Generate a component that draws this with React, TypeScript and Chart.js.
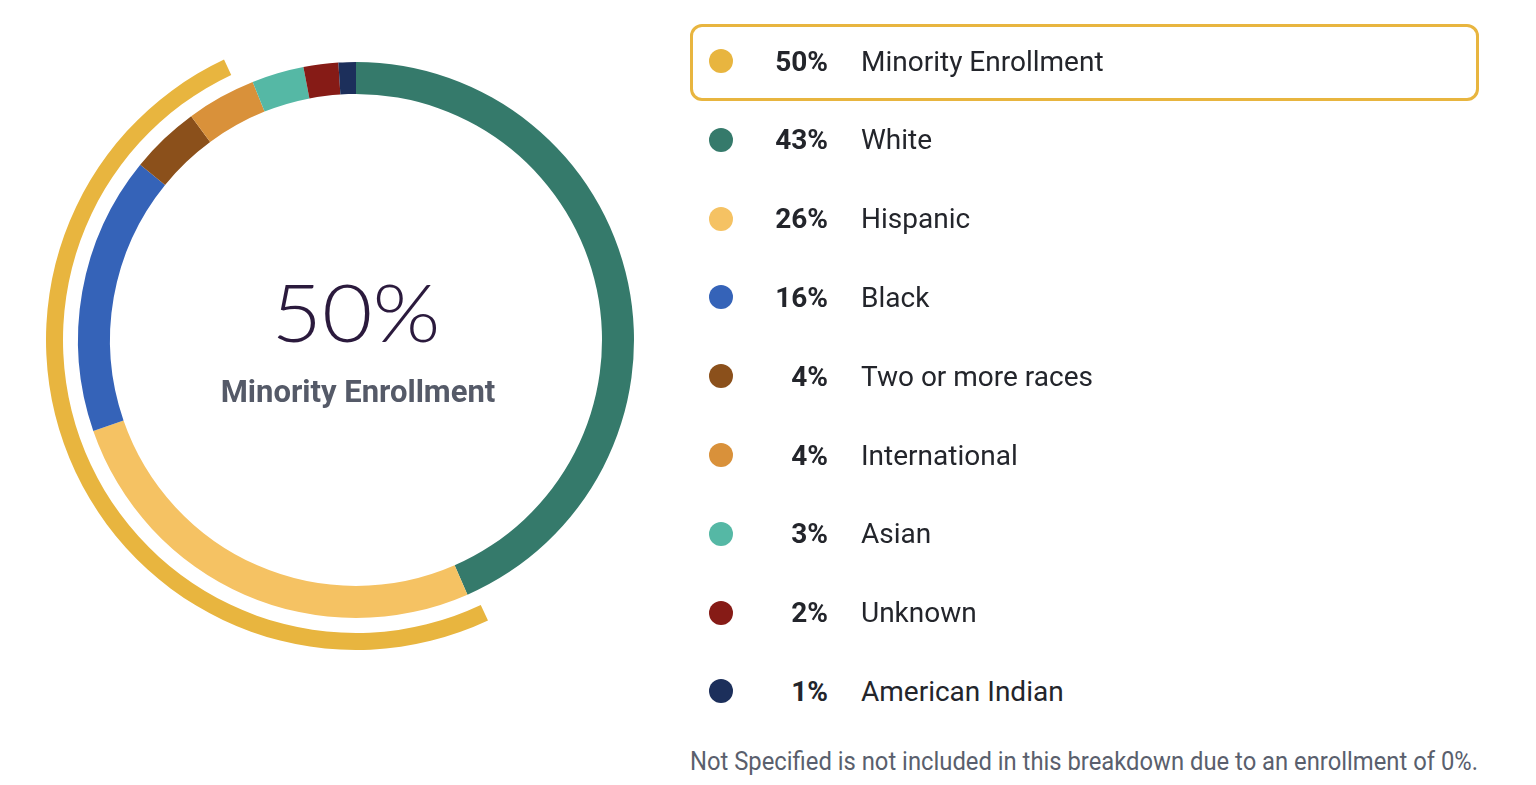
import React, { useEffect, useRef } from "react";
import { Chart, registerables } from "chart.js";

Chart.register(...registerables);

const categories = [
  "White",
  "Hispanic",
  "Black",
  "Two or more races",
  "International",
  "Asian",
  "Unknown",
  "American Indian",
];
const percentages = [43, 26, 16, 4, 4, 3, 2, 1];
const colors = [
  "#357a6b",
  "#f5c263",
  "#3563b8",
  "#8b501b",
  "#d9913a",
  "#55b8a5",
  "#861b16",
  "#1c2f5b",
];
const minorityLabel = "Minority Enrollment";
const minorityValue = 50;
const minorityColor = "#e8b53f";
const footnote =
  "Not Specified is not included in this breakdown due to an enrollment of 0%.";

const centerTextPlugin = {
  id: "centerText",
  afterDraw(chart: any) {
    const ctx = chart.ctx as CanvasRenderingContext2D;
    const { left, right, top, bottom } = chart.chartArea;
    const cx = (left + right) / 2;
    const cy = (top + bottom) / 2;
    ctx.save();
    ctx.textAlign = "center";
    ctx.textBaseline = "alphabetic";
    const big = `${minorityValue}%`;
    ctx.font = "300 80px Lato, 'Open Sans', sans-serif";
    ctx.fillStyle = "#2b1a3d";
    const w = ctx.measureText(big).width;
    const sx = 169 / w;
    ctx.save();
    ctx.translate(cx, cy + 1.5);
    ctx.scale(sx, 1);
    ctx.fillText(big, 0, 0);
    ctx.restore();
    ctx.font = "700 31px Roboto, sans-serif";
    ctx.fillStyle = "#555a68";
    ctx.fillText(minorityLabel, cx + 2, cy + 61.5);
    ctx.restore();
  },
};

function DonutChart() {
  const ref = useRef<HTMLCanvasElement | null>(null);
  useEffect(() => {
    if (!ref.current) return;
    const chart = new Chart(ref.current, {
      type: "doughnut",
      data: {
        labels: categories,
        datasets: [
          {
            label: minorityLabel,
            data: [minorityValue],
            backgroundColor: [minorityColor],
            borderWidth: 0,
            hoverBorderWidth: 0,
            hoverOffset: 0,
            offset: 0,
            weight: 17,
            rotation: percentages[0] * 3.6,
            circumference: minorityValue * 3.6,
          } as any,
          {
            label: "gap",
            data: [1],
            backgroundColor: ["rgba(0,0,0,0)"],
            borderWidth: 0,
            hoverBorderWidth: 0,
            hoverOffset: 0,
            offset: 0,
            weight: 15,
          } as any,
          {
            label: "Enrollment",
            data: percentages,
            backgroundColor: colors,
            borderWidth: 0,
            hoverBorderWidth: 0,
            hoverOffset: 0,
            offset: 0,
            weight: 32,
          } as any,
        ],
      },
      options: {
        animation: false,
        responsive: true,
        maintainAspectRatio: false,
        cutout: 246,
        layout: { padding: 0 },
        plugins: {
          legend: { display: false },
          tooltip: { enabled: false },
        },
        events: [],
      } as any,
      plugins: [centerTextPlugin],
    });
    return () => chart.destroy();
  }, []);
  return (
    <div
      style={{
        position: "absolute",
        left: 46,
        top: 30,
        width: 620,
        height: 620,
      }}
    >
      <canvas ref={ref} />
    </div>
  );
}

const ROW0 = 61;
const ROW_STEP = 78.8;

function LegendRow({
  index,
  color,
  pct,
  label,
}: {
  index: number;
  color: string;
  pct: number;
  label: string;
}) {
  const cy = ROW0 + index * ROW_STEP;
  return (
    <div
      style={{
        position: "absolute",
        left: 0,
        top: cy - 20,
        height: 40,
        width: 1536,
      }}
    >
      <div
        style={{
          position: "absolute",
          left: 709,
          top: 8,
          width: 24,
          height: 24,
          borderRadius: "50%",
          background: color,
        }}
      />
      <div
        style={{
          position: "absolute",
          left: 728,
          width: 100,
          top: 0,
          height: 40,
          display: "flex",
          alignItems: "center",
          justifyContent: "flex-end",
          font: "700 28px Roboto, sans-serif",
          color: "#23252b",
          whiteSpace: "nowrap",
        }}
      >
        {pct}%
      </div>
      <div
        style={{
          position: "absolute",
          left: 861,
          top: 0,
          height: 40,
          display: "flex",
          alignItems: "center",
          font: "400 28px Roboto, sans-serif",
          color: "#23252b",
          whiteSpace: "nowrap",
        }}
      >
        {label}
      </div>
    </div>
  );
}

function Footnote() {
  const ref = useRef<HTMLSpanElement | null>(null);
  useEffect(() => {
    const el = ref.current;
    if (!el) return;
    const w = el.getBoundingClientRect().width;
    if (w > 0) el.style.transform = `scaleX(${788 / w})`;
  }, []);
  return (
    <span
      ref={ref}
      style={{
        position: "absolute",
        left: 690,
        top: 747,
        font: "400 25px Roboto, sans-serif",
        color: "#5a5f6d",
        whiteSpace: "nowrap",
        transformOrigin: "left center",
        display: "inline-block",
      }}
    >
      {footnote}
    </span>
  );
}

export default function App() {
  return (
    <div
      style={{
        position: "fixed",
        left: 0,
        top: 0,
        width: 1536,
        height: 785,
        background: "#ffffff",
        overflow: "hidden",
      }}
    >
      <DonutChart />
      <div
        style={{
          position: "absolute",
          left: 690,
          top: 24,
          width: 789,
          height: 77,
          border: `3px solid ${minorityColor}`,
          borderRadius: 12,
          boxSizing: "border-box",
        }}
      />
      <LegendRow index={0} color={minorityColor} pct={minorityValue} label={minorityLabel} />
      {categories.map((c, i) => (
        <LegendRow key={c} index={i + 1} color={colors[i]} pct={percentages[i]} label={c} />
      ))}
      <Footnote />
    </div>
  );
}
